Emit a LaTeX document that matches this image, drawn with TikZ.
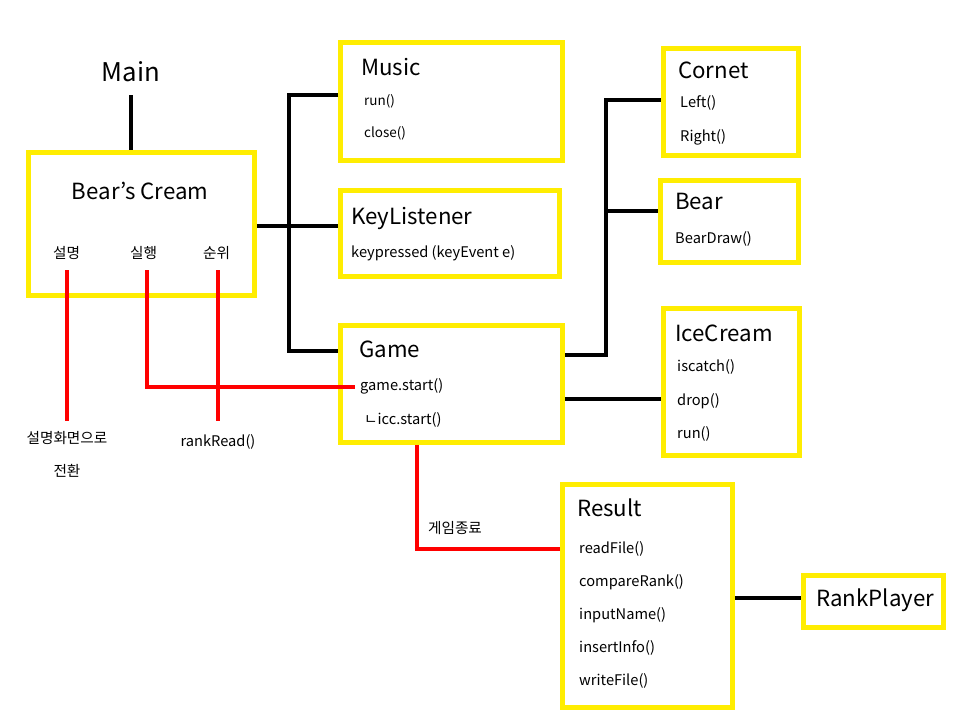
\documentclass[tikz,border=0pt]{standalone}
\usepackage{fontspec}
\setmainfont{Noto Sans CJK KR}
\usetikzlibrary{calc,positioning}
\tikzset{
  box/.style={draw=yellow!95!orange, line width=4.2pt, inner sep=0pt, anchor=north west},
  title/.style={anchor=base west, inner sep=0pt, font=\fontsize{19}{19}\selectfont},
  meth/.style={anchor=base west, inner sep=0pt, font=\fontsize{12.5}{12.5}\selectfont},
  link/.style={line width=3pt, black},
  call/.style={line width=3pt, red},
}
\newcommand{\mkbox}[5]{\node[box, minimum width=#4*0.03cm, minimum height=#5*0.03cm] (#1) at (#2,#3) {};}
\begin{document}
\begin{tikzpicture}[x=0.03cm, y=-0.03cm]
            \useasboundingbox (0,0) rectangle (968,722);
            % boxes
            \mkbox{bear}{26}{150}{226}{143}
            \mkbox{music}{338}{40}{222}{118}
            \mkbox{key}{338}{188}{219}{86}
            \mkbox{game}{338}{323}{222}{117}
            \mkbox{cornet}{661}{46}{135}{107}
            \mkbox{bearc}{658}{178}{138}{82}
            \mkbox{ice}{661}{306}{136}{147}
            \mkbox{result}{560}{482}{170}{223}
            \mkbox{rank}{801}{573}{140}{52}

            % texts
            \node[font=\fontsize{22}{22}\selectfont] (main) at (131,72) {Main};
            \node[font=\fontsize{19}{19}\selectfont] (bname) at (140,191) {Bear’s Cream};
            \node[meth] (b1) at (53,258) {설명};
            \node[meth] (b2) at (130,258) {실행};
            \node[meth] (b3) at (203,258) {순위};
            \node[title] at (361,75) {Music};
            \node[meth, font=\fontsize{11.5}{11.5}\selectfont] at (364,105) {run()};
            \node[meth, font=\fontsize{11.5}{11.5}\selectfont] at (364,137) {close()};
            \node[title] at (351,224) {KeyListener};
            \node[meth] at (351,257) {keypressed (keyEvent e)};
            \node[title] at (359,357) {Game};
            \node[meth] at (360,390) {game.start()};
            \node[meth] at (364,424) {ㄴicc.start()};
            \node[title] at (678,78) {Cornet};
            \node[meth] at (680,107) {Left()};
            \node[meth] at (680,141) {Right()};
            \node[title] at (675,209) {Bear};
            \node[meth] at (675,243) {BearDraw()};
            \node[title] at (675,341) {IceCream};
            \node[meth] at (677,371) {iscatch()};
            \node[meth] at (677,405) {drop()};
            \node[meth] at (677,438) {run()};
            \node[title] at (577,516) {Result};
            \node[meth] at (579,553) {readFile()};
            \node[meth] at (579,586) {compareRank()};
            \node[meth] at (579,619) {inputName()};
            \node[meth] at (579,652) {insertInfo()};
            \node[meth] at (579,685) {writeFile()};
            \node[title] at (816,606) {RankPlayer};
            \node[meth, anchor=base] (expl) at (67,443) {설명화면으로};
            \node[meth, anchor=base] at (67,476) {전환};
            \node[meth, anchor=base] (rread) at (218,446) {rankRead()};
            \node[meth, anchor=base] (over) at (455,533) {게임종료};

            % black links
            \draw[link] (131,95) -- (bear.north -| 131,0);
            \draw[link] (bear.east |- 0,226) -- (key.west |- 0,226);
            \draw[link] (music.west |- 0,95) -- (289,95) -- (289,351) -- (game.west |- 0,351);
            \draw[link] (game.east |- 0,355) -- (606,355) -- (606,100) -- (cornet.west |- 0,100);
            \draw[link] (606,211) -- (bearc.west |- 0,211);
            \draw[link] (game.east |- 0,399) -- (ice.west |- 0,399);
            \draw[link] (result.east |- 0,598) -- (rank.west |- 0,598);

            % red calls
            \draw[call] (67,270) -- (67,421);
            \draw[call] (147,270) -- (147,387) -- (355,387);
            \draw[call] (218,270) -- (218,421);
            \draw[call] (game.south -| 417,0) -- (417,549) -- (result.west |- 0,549);
        \end{tikzpicture}
\end{document}
